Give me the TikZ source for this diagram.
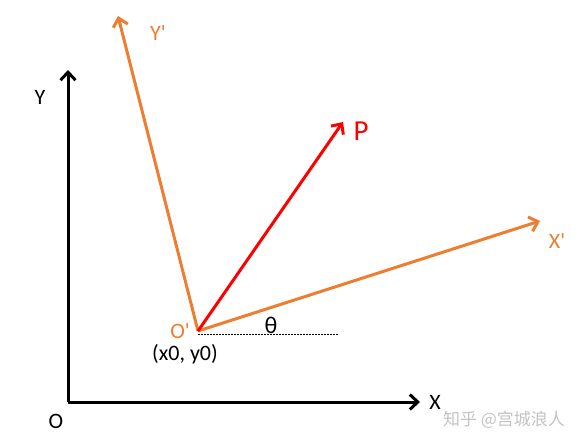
\documentclass[tikz,border=0pt]{standalone}
\usepackage{fontspec}
\setmainfont{Carlito}
\newfontfamily\cjk{Noto Sans CJK SC}
\usetikzlibrary{arrows.meta,positioning,calc}
\definecolor{frameorange}{RGB}{237,125,49}
\definecolor{markgray}{RGB}{195,195,195}
\tikzset{
    axis/.style = {draw, line width=3pt, -{Straight Barb[length=8pt,width=15pt,line width=3pt]}},
    oldaxis/.style = {axis, black},
    newaxis/.style = {axis, frameorange},
    vec/.style = {axis, red},
    lbl/.style = {inner sep=0pt, font=\fontsize{22}{26}\selectfont},
    guide/.style = {draw, thin, dash pattern=on 2pt off 1pt}
}

\begin{document}
\begin{tikzpicture}[x=1pt, y=-1pt]
    \useasboundingbox (0,0) rectangle (582,444);
    % old frame
    \coordinate (O) at (68,402);
    \coordinate (xtip) at (420,402);
    \coordinate (ytip) at (68,70);
    \draw [oldaxis] (O) -- (xtip);
    \draw [oldaxis] (O) -- (ytip);
    \node [lbl, name=xlab] at (435,402) {X};
    \node [lbl, name=ylab] at (40,97) {Y};
    \node [lbl, name=olab] at (56,421) {O};
    % new frame
    \coordinate (Oprime) at (198,331);
    \coordinate (xptip) at (540,221);
    \coordinate (yptip) at (118,16);
    \coordinate (ptip) at (343,122);
    \draw [newaxis] (Oprime) -- (xptip);
    \draw [newaxis] (Oprime) -- (yptip);
    \draw [vec] (Oprime) -- (ptip);
    \node [lbl, text=frameorange, name=xplab] at (557,241) {X\textquotesingle};
    \node [lbl, text=frameorange, name=yplab] at (158,33) {Y\textquotesingle};
    \node [lbl, text=red, name=plab, font=\fontsize{29}{34}\selectfont] at (361,131) {P};
    \node [lbl, text=frameorange, name=oplab] at (180,331) {O\textquotesingle};
    \node [lbl, name=origin] at (185,354) {(x0, y0)};
    % angle
    \coordinate (dashstart) at (198,334);
    \coordinate (dashend) at (338,334);
    \draw [guide] (dashstart) -- (dashend);
    \node [lbl, name=theta, font=\fontsize{24}{28}\selectfont] at (271,325) {θ};
    \node [text=markgray, inner sep=0pt, font=\cjk\fontsize{17}{20}\selectfont, name=mark] at (504,420) {知乎 @宫城浪人};
\end{tikzpicture}
\end{document}
